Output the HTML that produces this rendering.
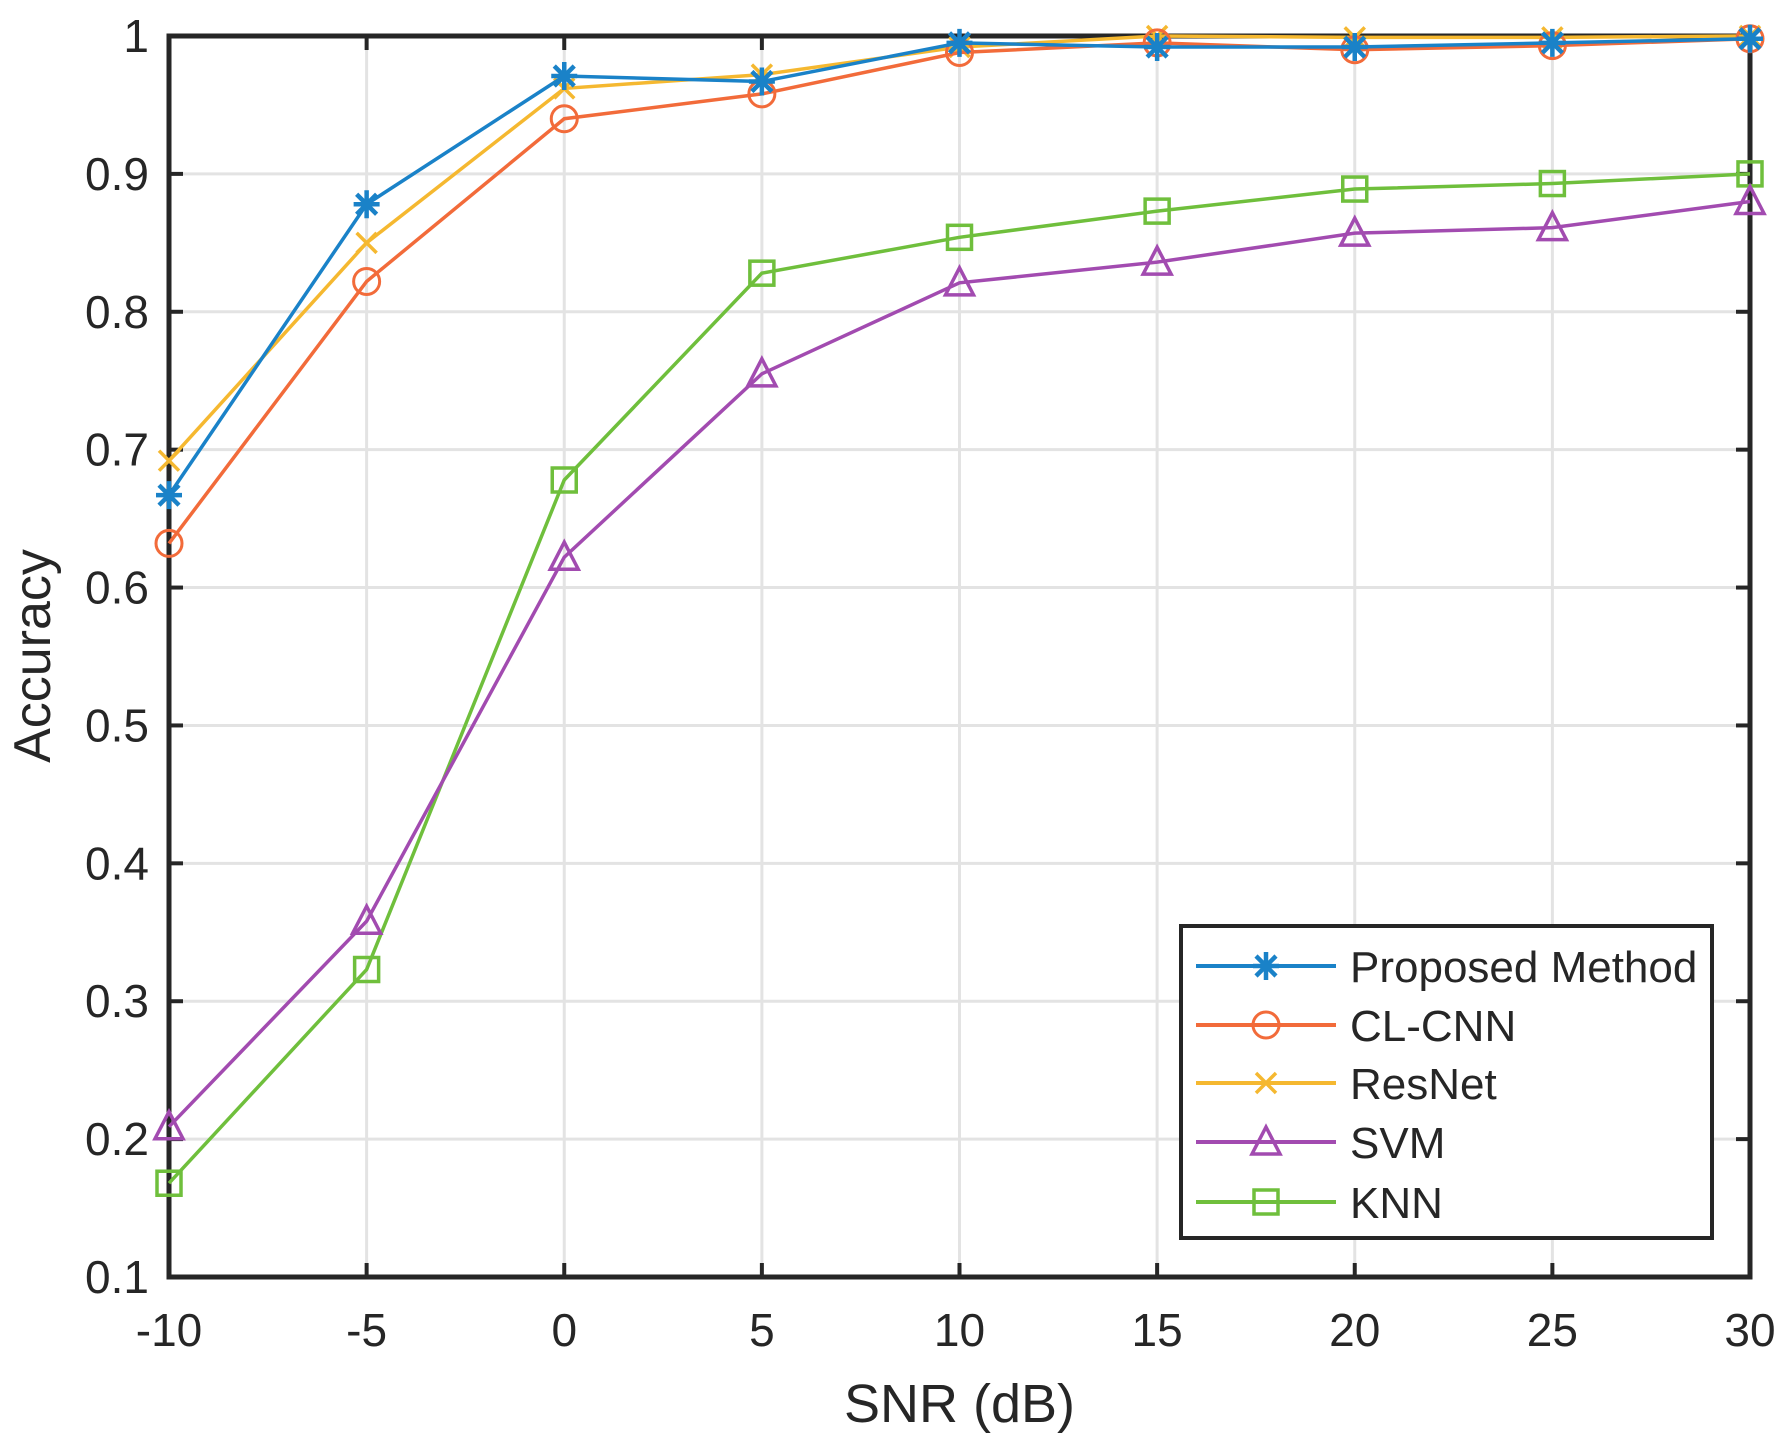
<!DOCTYPE html>
<html><head><meta charset="utf-8"><style>
html,body{margin:0;padding:0;background:#fff;}
svg{display:block;}
text{font-family:"Liberation Sans",Arial,sans-serif;fill:#262626;}
</style></head><body>
<svg id="s" width="1791" height="1441" xmlns="http://www.w3.org/2000/svg"></svg>
<script>
const L=169,R=1750,T=36,B=1277;
const X=v=>L+(v+10)/40*(R-L), Y=v=>B-(v-0.1)/0.9*(B-T);
let h='';
for(let i=0;i<=8;i++){const x=X(-10+5*i);h+=`<line x1="${x}" y1="${T}" x2="${x}" y2="${B}" stroke="#e3e3e3" stroke-width="3"/>`;}
for(let i=1;i<=10;i++){const y=Y(i/10);h+=`<line x1="${L}" y1="${y}" x2="${R}" y2="${y}" stroke="#e3e3e3" stroke-width="3"/>`;}
for(let i=0;i<=8;i++){const x=X(-10+5*i);h+=`<line x1="${x}" y1="${B}" x2="${x}" y2="${B-14}" stroke="#262626" stroke-width="4"/><line x1="${x}" y1="${T}" x2="${x}" y2="${T+14}" stroke="#262626" stroke-width="4"/>`;
 h+=`<text x="${x}" y="1346" font-size="46" text-anchor="middle">${-10+5*i}</text>`;}
for(let i=1;i<=10;i++){const y=Y(i/10);h+=`<line x1="${L}" y1="${y}" x2="${L+14}" y2="${y}" stroke="#262626" stroke-width="4"/><line x1="${R}" y1="${y}" x2="${R-14}" y2="${y}" stroke="#262626" stroke-width="4"/>`;
 h+=`<text x="149" y="${y+16}" font-size="46" text-anchor="end">${i==10?'1':'0.'+i}</text>`;}
h+=`<rect x="${L}" y="${T}" width="${R-L}" height="${B-T}" fill="none" stroke="#262626" stroke-width="5"/>`;
h+=`<text x="${(L+R)/2}" y="1422" font-size="54" text-anchor="middle">SNR (dB)</text>`;
h+=`<text transform="translate(50,656) rotate(-90)" font-size="52" text-anchor="middle">Accuracy</text>`;
const xs=[-10,-5,0,5,10,15,20,25,30];
const S=[
 ['#1a82c8','star',[0.667,0.878,0.971,0.967,0.995,0.992,0.992,0.995,0.998],'Proposed Method'],
 ['#f26b3a','circ',[0.632,0.822,0.940,0.958,0.988,0.995,0.990,0.993,0.998],'CL-CNN'],
 ['#f5b830','x',[0.692,0.850,0.962,0.972,0.992,1.0,0.999,0.999,1.0],'ResNet'],
 ['#a24bb0','tri',[0.209,0.358,0.622,0.755,0.821,0.836,0.857,0.861,0.880],'SVM'],
 ['#6fbf3c','sq',[0.168,0.323,0.678,0.828,0.854,0.873,0.889,0.893,0.900],'KNN']];
function mk(t,x,y,c){const r=13;
 if(t=='circ')return `<circle cx="${x}" cy="${y}" r="${r}" fill="none" stroke="${c}" stroke-width="3"/>`;
 if(t=='sq')return `<rect x="${x-r+1}" y="${y-r+1}" width="${2*r-2}" height="${2*r-2}" fill="none" stroke="${c}" stroke-width="3.5"/>`;
 if(t=='tri')return `<polygon points="${x},${y-r-2} ${x+r+1},${y+r-1} ${x-r-1},${y+r-1}" fill="none" stroke="${c}" stroke-width="3.5"/>`;
 if(t=='x')return `<path d="M${x-10} ${y-10}L${x+10} ${y+10}M${x-10} ${y+10}L${x+10} ${y-10}" stroke="${c}" stroke-width="3.5"/>`;
 return `<path d="M${x} ${y-14}V${y+14}M${x-13} ${y}H${x+13}M${x-10} ${y-10}L${x+10} ${y+10}M${x-10} ${y+10}L${x+10} ${y-10}" stroke="${c}" stroke-width="4.5"/>`;}
for(const s of [...S].reverse()){
 const pts=xs.map((x,i)=>[X(x),Y(s[2][i])]);
 h+=`<polyline points="${pts.map(p=>p.join(',')).join(' ')}" fill="none" stroke="${s[0]}" stroke-width="3.5"/>`;
 pts.forEach(p=>h+=mk(s[1],p[0],p[1],s[0]));}
h+=`<rect x="1181" y="926" width="531" height="312" fill="#fff" stroke="#262626" stroke-width="4"/>`;
const ly=[966,1025,1083,1142,1202];
S.forEach((s,i)=>{h+=`<line x1="1196" y1="${ly[i]}" x2="1336" y2="${ly[i]}" stroke="${s[0]}" stroke-width="4"/>`+mk(s[1],1266,ly[i],s[0]);
 h+=`<text x="1350" y="${ly[i]+16}" font-size="44" fill="#111">${s[3]}</text>`;});
document.getElementById('s').innerHTML=h;
</script>
</body></html>
